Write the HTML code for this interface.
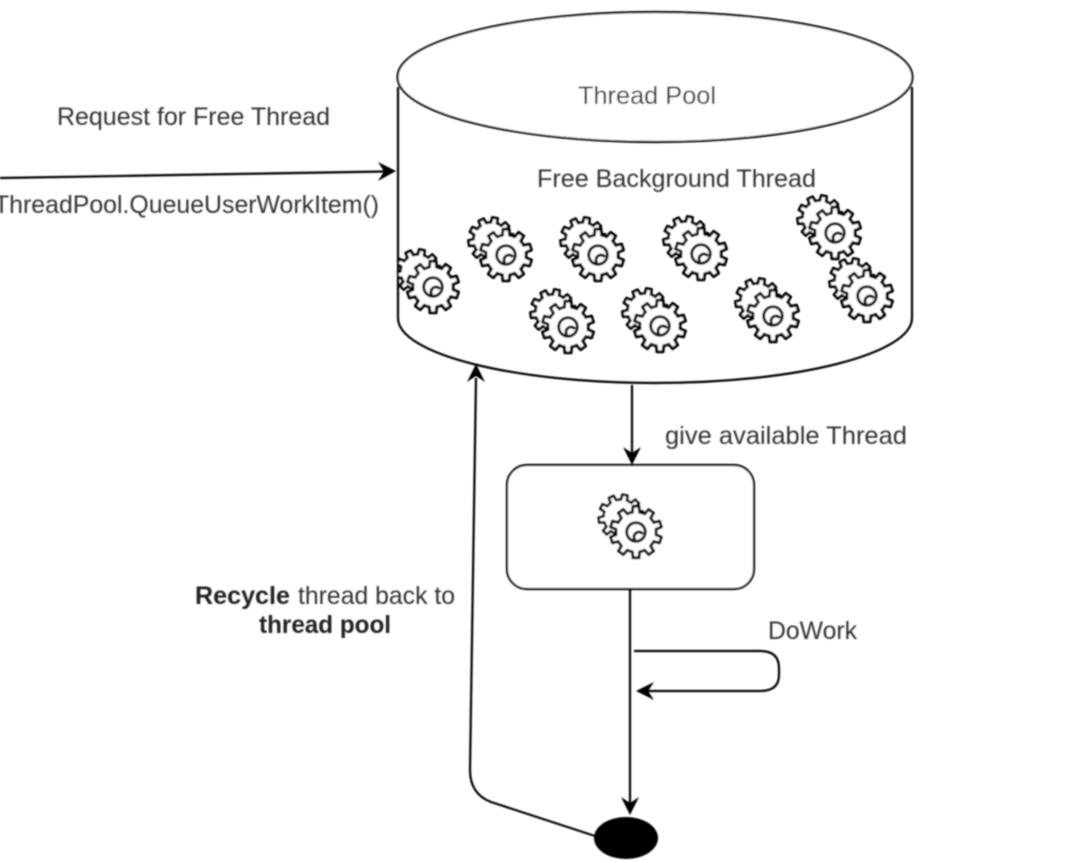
<!DOCTYPE html>
<html>
<head>
<meta charset="utf-8">
<style>
html,body{margin:0;padding:0;background:#fff;width:1080px;height:863px;overflow:hidden}
svg{display:block}
text{font-family:"Liberation Sans",sans-serif;font-size:25px;fill:#333}
text.b{font-weight:bold;fill:#222}
</style>
</head>
<body>
<svg width="1080" height="863" viewBox="0 0 1080 863" xmlns="http://www.w3.org/2000/svg">
<defs>
<filter id="blur" x="-5%" y="-5%" width="110%" height="110%"><feGaussianBlur stdDeviation="0.7"/></filter>
<clipPath id="cl"><rect x="399" y="200" width="100" height="130"/></clipPath>
<path id="t" d="M-6.2-19.2 L-3.6-19.8 L-3.1-25.800 L3.1-25.800 L3.6-19.8 L6.2-19.2"/>
<g id="wheel">
<circle r="19.8" fill="#fff" stroke="none"/>
<use href="#t"/><use href="#t" transform="rotate(36)"/><use href="#t" transform="rotate(72)"/><use href="#t" transform="rotate(108)"/><use href="#t" transform="rotate(144)"/><use href="#t" transform="rotate(180)"/><use href="#t" transform="rotate(216)"/><use href="#t" transform="rotate(252)"/><use href="#t" transform="rotate(288)"/><use href="#t" transform="rotate(324)"/>
</g>
<g id="gear" fill="#fff" stroke="#000" stroke-width="2.9" stroke-linejoin="round">
<use href="#wheel" transform="translate(-15,-15) rotate(10) scale(.87)" stroke-width="3.2"/>
<use href="#wheel"/>
<circle r="9.300" fill="#fff"/>
<path d="M-1 8 A3.500 3.500 0 0 1 7 2" fill="#fff"/>
</g>
</defs>
<g filter="url(#blur)">
<g fill="none" stroke="#000" stroke-width="2.2">
<path d="M398 87 V318 C398 354 513 383 655 383 C797 383 912 354 912 318 V87"/>
<ellipse cx="655" cy="77" rx="257.500" ry="65" fill="#fff"/>
<rect x="507" y="465" width="247" height="124" rx="20" ry="20" fill="#fff"/>
<path d="M0 178 L384 171.500"/>
<path d="M632 385 V454"/>
<path d="M630 589 V804"/>
<path d="M634 651 H760 Q779 651 779 668 V675 Q779 691 760 691 H648"/>
<path d="M595 836 L491 802 Q470 794 470 770 L476 378"/>
</g>
<g fill="#000" stroke="none">
<path d="M396 171 L378 162 L384 171.500 L378 181 Z"/>
<path d="M632 465 L623 447 L632 453 L641 447 Z"/>
<path d="M630 815 L621 797 L630 803 L639 797 Z"/>
<path d="M636 691 L654 682 L648 691 L654 700 Z"/>
<path d="M476 364 L467 382 L476 376 L485 382 Z"/>
<ellipse cx="626" cy="838" rx="32" ry="21"/>
</g>
<g clip-path="url(#cl)"><use href="#gear" x="433" y="287"/></g>
<use href="#gear" x="506" y="255"/>
<use href="#gear" x="598" y="255"/>
<use href="#gear" x="701" y="254"/>
<use href="#gear" x="568" y="327"/>
<use href="#gear" x="660" y="326"/>
<use href="#gear" x="773" y="316"/>
<use href="#gear" x="835" y="233"/>
<use href="#gear" x="867" y="296"/>
<use href="#gear" x="636" y="532"/>
<text x="578" y="104" textLength="138" lengthAdjust="spacingAndGlyphs">Thread Pool</text>
<text x="57" y="125" textLength="273" lengthAdjust="spacingAndGlyphs">Request for Free Thread</text>
<text x="-6" y="213" textLength="385" lengthAdjust="spacingAndGlyphs">ThreadPool.QueueUserWorkItem()</text>
<text x="537" y="187" textLength="279" lengthAdjust="spacingAndGlyphs">Free Background Thread</text>
<text x="665" y="444" textLength="242" lengthAdjust="spacingAndGlyphs">give available Thread</text>
<text x="768" y="639" textLength="89" lengthAdjust="spacingAndGlyphs">DoWork</text>
<text class="b" x="195" y="604" textLength="95" lengthAdjust="spacingAndGlyphs">Recycle</text>
<text x="298" y="604" textLength="157" lengthAdjust="spacingAndGlyphs">thread back to</text>
<text class="b" x="259" y="633" textLength="132" lengthAdjust="spacingAndGlyphs">thread pool</text>
</g>
</svg>
</body>
</html>
